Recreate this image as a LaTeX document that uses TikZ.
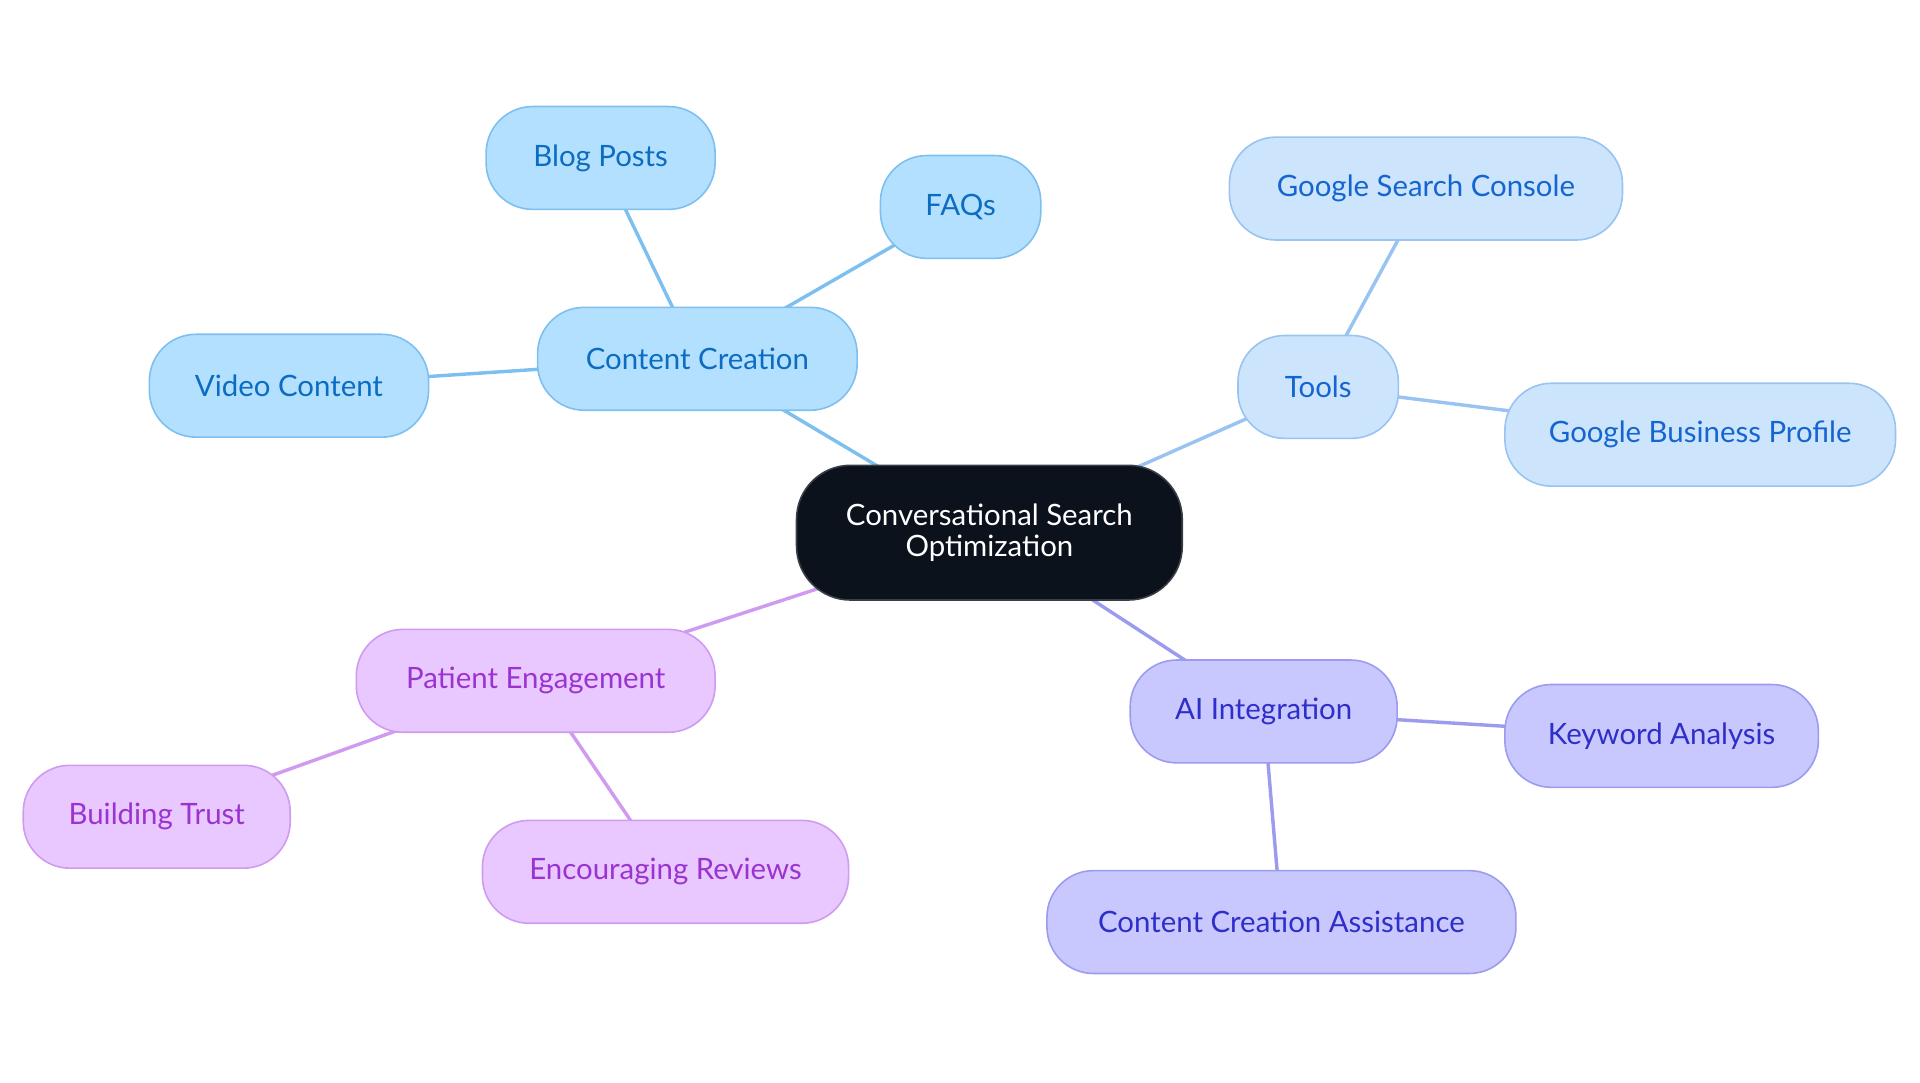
\documentclass[tikz,border=0pt]{standalone}
\usepackage{fontspec}
\setmainfont{Lato}
\definecolor{cfill}{HTML}{0C121C}
\definecolor{cdraw}{HTML}{3A3F47}
\definecolor{bfill}{HTML}{B3E0FF}
\definecolor{bdraw}{HTML}{7DC0F0}
\definecolor{btext}{HTML}{0B6CC1}
\definecolor{tfill}{HTML}{CCE4FC}
\definecolor{tdraw}{HTML}{99C3F0}
\definecolor{ttext}{HTML}{1565D0}
\definecolor{afill}{HTML}{C8C8FE}
\definecolor{adraw}{HTML}{9B9BF0}
\definecolor{atext}{HTML}{2E2EC8}
\definecolor{pfill}{HTML}{E8C8FE}
\definecolor{pdraw}{HTML}{CF9BF0}
\definecolor{ptext}{HTML}{9A33D0}
\tikzset{
  box/.style={rectangle, rounded corners=38pt, minimum height=84pt, inner sep=0pt, line width=1.3pt, font={\fontsize{24}{26}\selectfont}, align=center},
  central/.style={box, fill=cfill, draw=cdraw, text=white, minimum height=110pt, rounded corners=44pt},
  bnode/.style={box, fill=bfill, draw=bdraw, text=btext},
  tnode/.style={box, fill=tfill, draw=tdraw, text=ttext},
  anode/.style={box, fill=afill, draw=adraw, text=atext},
  pnode/.style={box, fill=pfill, draw=pdraw, text=ptext},
  link/.style={line width=2.8pt},
}
\begin{document}
\begin{tikzpicture}[x=1pt,y=-1pt]
\useasboundingbox (0,0) rectangle (1568,884);
% coordinates for node centres
\coordinate (pC) at (808,435);
\coordinate (pCC) at (569.5,293);
\coordinate (pBP) at (490.5,129);
\coordinate (pFQ) at (784.5,169);
\coordinate (pVC) at (236,315);
\coordinate (pTo) at (1076.5,316);
\coordinate (pGS) at (1164.5,154);
\coordinate (pGB) at (1388.5,355);
\coordinate (pPE) at (437.5,556);
\coordinate (pBT) at (128,667);
\coordinate (pER) at (543.5,712);
\coordinate (pAI) at (1032,581);
\coordinate (pKA) at (1357,601);
\coordinate (pCA) at (1046.5,753);
% links
\draw[link, bdraw] (pC) -- (pCC);
\draw[link, bdraw] (pCC) -- (pBP);
\draw[link, bdraw] (pCC) -- (pFQ);
\draw[link, bdraw] (pCC) -- (pVC);
\draw[link, tdraw] (pC) -- (pTo);
\draw[link, tdraw] (pTo) -- (pGS);
\draw[link, tdraw] (pTo) -- (pGB);
\draw[link, pdraw] (pC) -- (pPE);
\draw[link, pdraw] (pPE) -- (pBT);
\draw[link, pdraw] (pPE) -- (pER);
\draw[link, adraw] (pC) -- (pAI);
\draw[link, adraw] (pAI) -- (pKA);
\draw[link, adraw] (pAI) -- (pCA);
% nodes
\node[central, minimum width=315pt] (C) at (pC) {Conversational Search\\Optimization};
\node[bnode, minimum width=261pt] (CC) at (pCC) {Content Creation};
\node[bnode, minimum width=187pt] (BP) at (pBP) {Blog Posts};
\node[bnode, minimum width=131pt] (FQ) at (pFQ) {FAQs};
\node[bnode, minimum width=228pt] (VC) at (pVC) {Video Content};
\node[tnode, minimum width=131pt] (To) at (pTo) {Tools};
\node[tnode, minimum width=321pt] (GS) at (pGS) {Google Search Console};
\node[tnode, minimum width=319pt] (GB) at (pGB) {Google Business Profile};
\node[pnode, minimum width=293pt] (PE) at (pPE) {Patient Engagement};
\node[pnode, minimum width=218pt] (BT) at (pBT) {Building Trust};
\node[pnode, minimum width=299pt] (ER) at (pER) {Encouraging Reviews};
\node[anode, minimum width=218pt] (AI) at (pAI) {AI Integration};
\node[anode, minimum width=256pt] (KA) at (pKA) {Keyword Analysis};
\node[anode, minimum width=383pt] (CA) at (pCA) {Content Creation Assistance};
\end{tikzpicture}
\end{document}
